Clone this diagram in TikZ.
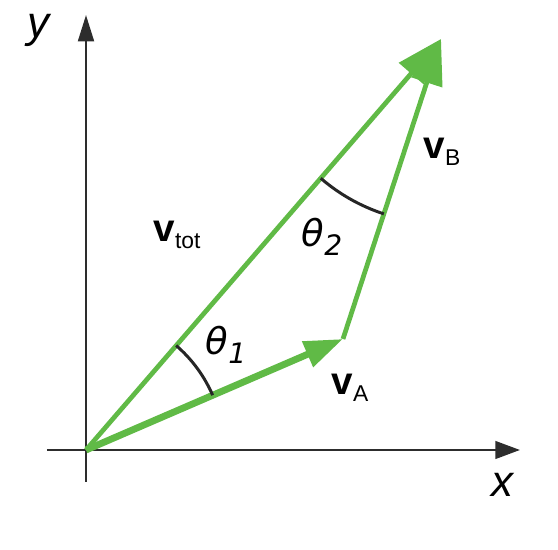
\documentclass[tikz,border=0pt]{standalone}
\usepackage{fontspec}
\setmainfont{Liberation Sans}
\newfontfamily\greekfont{DejaVu Sans}
\usetikzlibrary{arrows.meta}
\definecolor{vecgreen}{RGB}{96,186,70}
\definecolor{axisgray}{RGB}{45,45,45}
\newcommand{\vlabel}[1]{\fontsize{22}{24}\selectfont\textbf{v}\raisebox{-4pt}{\fontsize{13}{14}\selectfont #1}}
\newcommand{\thlabel}[1]{{\greekfont\itshape\fontsize{21}{24}\selectfont θ\raisebox{-5pt}{\fontsize{16}{18}\selectfont #1}}}

\begin{document}
\begin{tikzpicture}[
    vec/.style={vecgreen, line width=2.7pt, -{Triangle[length=26pt,width=18pt]}},
    axis/.style={axisgray, line width=1.4pt},
    anglearc/.style={black!85, line width=1.7pt},
    axislab/.style={font=\fontsize{25}{28}\selectfont\itshape, inner sep=0pt}
  ]
  \useasboundingbox (-1.72,-2.0) rectangle (9.44,9.0);

  \coordinate (O) at (0,0);
  \coordinate (A) at (5.14,2.22);
  \coordinate (B) at (7.10,8.22);
  \coordinate (xs) at (-0.78,0);
  \coordinate (xe) at (8.68,0);
  \coordinate (ys) at (0,-0.64);
  \coordinate (ye) at (0,8.7);

  % axes
  \draw [axis, -{Triangle[length=14pt,width=10pt]}] (xs) -- (xe);
  \draw [axis, -{Triangle[length=15pt,width=9pt]}] (ys) -- (ye);
  \node [axislab] (xlab) at (8.32,-0.7) {x};
  \node [axislab] (ylab) at (-0.96,8.4) {y};

  % vectors
  \draw [vec] (O) -- (B);
  \draw [vec] (A) -- (B);
  \draw [vec, line width=3.9pt, -{Triangle[length=22pt,width=15pt]}] (O) -- (A);

  % angles
  \draw [anglearc] (O) ++(49.2:2.76) arc [start angle=49.2, end angle=23.4, radius=2.76];
  \draw [anglearc] (B) ++(229.2:3.68) arc [start angle=229.2, end angle=251.9, radius=3.68];

  % labels
  \node (vtot) at (1.82,4.3) {\vlabel{tot}};
  \node (vA) at (5.28,1.24) {\vlabel{A}};
  \node (vB) at (7.12,5.96) {\vlabel{B}};
  \node (th1) at (2.8,2.1) {\thlabel{1}};
  \node (th2) at (4.72,4.26) {\thlabel{2}};
\end{tikzpicture}
\end{document}
